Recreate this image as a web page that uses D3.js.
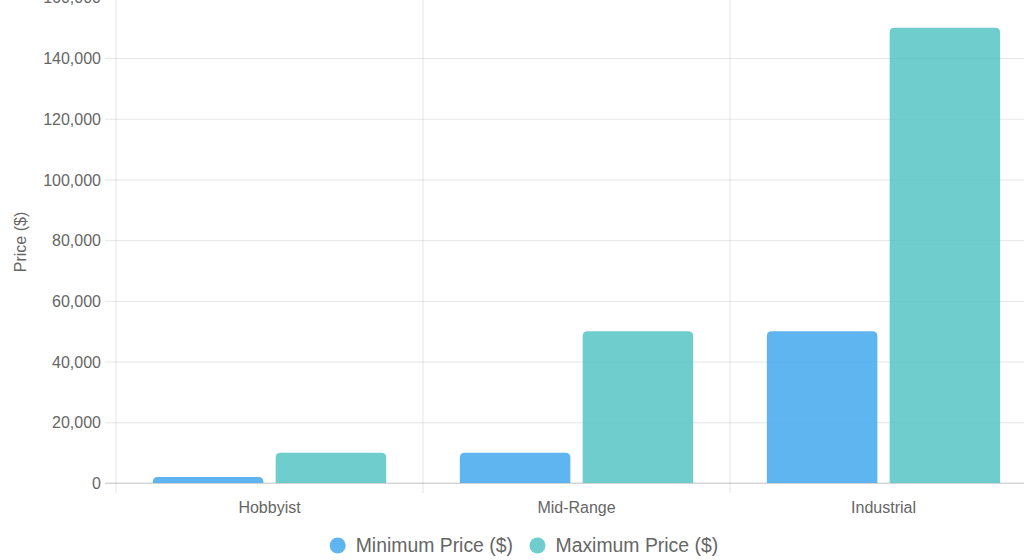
<!DOCTYPE html>
<html>
<head>
<meta charset="utf-8">
<script src="https://cdn.jsdelivr.net/npm/d3@7"></script>
<style>
html,body{margin:0;padding:0;background:#fff;}
svg{display:block;font-family:"Liberation Sans",Arial,Helvetica,sans-serif;}
</style>
</head>
<body>
<svg id="chart" width="1024" height="560"></svg>
<script>
const categories = ["Hobbyist", "Mid-Range", "Industrial"];
const seriesNames = ["Minimum Price ($)", "Maximum Price ($)"];
const minPrice = [2000, 10000, 50000];
const maxPrice = [10000, 50000, 150000];
const yTicks = [0, 20000, 40000, 60000, 80000, 100000, 120000, 140000, 160000];
const colors = ["rgba(54,162,235,0.8)", "rgba(75,192,192,0.8)"];

const svg = d3.select("#chart");
const plotLeft = 116, plotRight = 1037, plotTop = -2.7, plotBottom = 483;
const textColor = "#666";
const gridColor = "rgba(0,0,0,0.1)";

const x = d3.scaleBand().domain(categories).range([plotLeft, plotRight]).paddingInner(0).paddingOuter(0);
const sub = d3.scaleBand().domain(seriesNames).range([x.bandwidth()*0.1, x.bandwidth()*0.9]).paddingInner(0.1).paddingOuter(0.05);
const y = d3.scaleLinear().domain([0, 160000]).range([plotBottom, plotTop]);

// horizontal gridlines + y ticks
const yAxis = d3.axisLeft(y).tickValues(yTicks).tickFormat(d3.format(",")).tickSize(0).tickPadding(4);
const gy = svg.append("g").attr("transform", `translate(${plotLeft - 11},0)`).call(yAxis);
gy.select(".domain").remove();
gy.selectAll(".tick line").attr("stroke", gridColor).attr("x1", 0).attr("x2", plotRight - plotLeft + 11);
gy.selectAll(".tick text").attr("fill", textColor).attr("font-size", 16).attr("x", -4).attr("dy", "0.35em");

// vertical gridlines at category boundaries
const bounds = categories.map(c => x(c)).concat([plotRight]);
svg.append("g").selectAll("line").data(bounds).join("line")
  .attr("x1", d => d).attr("x2", d => d)
  .attr("y1", plotTop).attr("y2", plotBottom + 10)
  .attr("stroke", gridColor);

// x axis labels
const xAxis = d3.axisBottom(x).tickSize(0);
const gx = svg.append("g").attr("transform", `translate(0,${plotBottom})`).call(xAxis);
gx.select(".domain").remove();
gx.selectAll(".tick text").attr("fill", textColor).attr("font-size", 16).attr("dy", "0.71em").attr("y", 18.5);

// baseline
svg.append("line").attr("x1", plotLeft - 11).attr("x2", 1024).attr("y1", plotBottom).attr("y2", plotBottom).attr("stroke", "rgba(0,0,0,0.15)");

// bars
const rows = [];
categories.forEach((c, i) => {
  rows.push({cat: c, s: seriesNames[0], v: minPrice[i], col: colors[0]});
  rows.push({cat: c, s: seriesNames[1], v: maxPrice[i], col: colors[1]});
});
function barPath(x0, w, yTop, yBase) {
  const r = Math.min(5, w / 2, (yBase - yTop));
  return `M${x0},${yBase}V${yTop + r}Q${x0},${yTop} ${x0 + r},${yTop}H${x0 + w - r}Q${x0 + w},${yTop} ${x0 + w},${yTop + r}V${yBase}Z`;
}
svg.append("g").selectAll("path").data(rows).join("path")
  .attr("d", d => barPath(x(d.cat) + sub(d.s), sub.bandwidth(), y(d.v), y(0)))
  .attr("fill", d => d.col);

// y axis title
svg.append("text").attr("transform", `translate(26,242) rotate(-90)`)
  .attr("text-anchor", "middle").attr("fill", textColor).attr("font-size", 16).text("Price ($)");

// legend
const legendItems = seriesNames.map((s, i) => ({s, col: colors[i]}));
const lg = svg.append("g").attr("transform", "translate(0,545.5)");
let cx = 337.7;
legendItems.forEach((d, i) => {
  lg.append("circle").attr("cx", cx).attr("cy", 0).attr("r", 8).attr("fill", d.col);
  const t = lg.append("text").attr("x", cx + 18).attr("y", 0).attr("dy", "0.35em")
    .attr("fill", textColor).attr("font-size", 19.4).text(d.s);
  const w = t.node().getComputedTextLength();
  cx = cx + 18 + w + 24.5;
});
</script>
</body>
</html>
